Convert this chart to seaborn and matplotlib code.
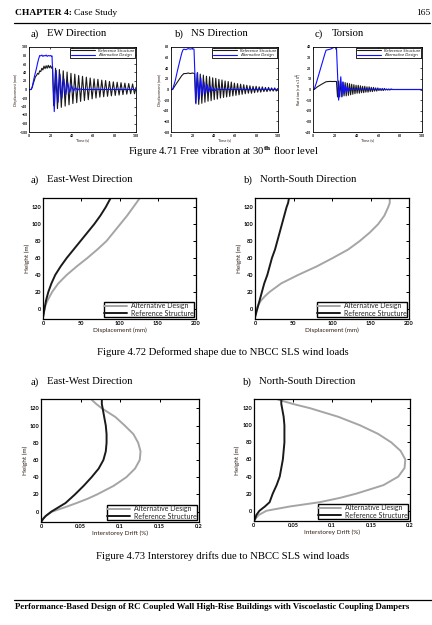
import matplotlib
matplotlib.use("Agg")
import matplotlib.pyplot as plt
import seaborn as sns
from matplotlib.lines import Line2D

# ---- Figure 4.71 free vibration (extrema) ----
ew_ref_t = [0, 2, 3, 4, 5, 6, 7, 8, 9, 10, 11, 12, 13, 14, 15, 16, 17, 18, 19, 20, 21, 22,
            23.0, 24.8, 26.6, 28.4, 30.2, 32.0, 33.8, 35.6, 37.4, 39.2, 41.0, 42.8, 44.6,
            46.4, 48.2, 50.0, 51.8, 53.6, 55.4, 57.2, 59.0, 60.8, 62.6, 64.4, 66.2, 68.0,
            69.8, 71.6, 73.4, 75.2, 77.0, 78.8, 80.6, 82.4, 84.2, 86.0, 87.8, 89.6, 91.4,
            93.2, 95.0, 96.8, 98.6, 100]
ew_ref_v = [0, 0, 5, 14, 22, 30, 33, 38, 36, 44, 42, 50, 46, 55, 49, 56, 50, 57, 51, 56, 50, 55,
            -38, 50, -45, 47, -42, 44, -39, 41, -36, 38, -33, 36, -31,
            33, -28, 31, -26, 29, -24, 27, -22, 25, -20, 24, -18, 22,
            -17, 21, -16, 19, -15, 18, -14, 17, -13, 16, -12, 15, -11,
            14, -10, 13, -10, 5]
ew_alt_t = [0, 2, 3, 4, 5, 6, 7, 8, 9, 10, 11, 12, 13, 14, 15, 16, 17, 18, 19, 20, 21, 21.5,
            23.6, 25.4, 27.2, 29.0, 30.8, 32.6, 34.4, 36.2, 38.0, 39.8, 41.6, 43.4, 45.2,
            47.0, 49, 100]
ew_alt_v = [0, 0, 6, 18, 30, 40, 50, 62, 72, 80, 79, 81, 78, 80, 79, 81, 78, 80, 79, 80, 78, 79,
            -52, 45, -30, 36, -20, 25, -12, 16, -7, 9, -4, 5, -2,
            2, 0, 0]

ns_ref_t = [0, 1.5, 4, 6, 8, 10, 12, 14, 16, 18, 20, 22,
            23.0, 24.45, 25.9, 27.35, 28.8, 30.25, 31.7, 33.15, 34.6, 36.05, 37.5, 38.95,
            40.4, 41.85, 43.3, 44.75, 46.2, 47.65, 49.1, 50.55, 52.0, 53.45, 54.9, 56.35,
            57.8, 59.25, 60.7, 62.15, 63.6, 65.05, 66.5, 67.95, 69.4, 70.85, 72.3, 73.75,
            75.2, 76.65, 78.1, 79.55, 81.0, 82.45, 83.9, 85.35, 86.8, 88.25, 89.7, 91.15,
            92.6, 94.05, 95.5, 96.95, 98.4, 99.85]
ns_ref_v = [0, 0, 8, 14, 20, 26, 30, 30, 31, 30, 31, 30,
            -25, 31, -28, 29, -26, 27, -24, 25, -22, 24, -21, 22,
            -19, 21, -18, 19, -16, 18, -15, 16, -14, 15, -13, 14,
            -12, 12, -11, 11, -10, 10, -9, 9, -8, 8, -7, 7,
            -7, 6, -6, 6, -5, 5, -5, 5, -4, 4, -4, 4,
            -3, 3, -3, 3, -3, 2]
ns_alt_t = [0, 1.5, 4, 6, 8, 10, 11, 12, 14, 16, 18, 20, 21.5,
            23.3, 24.8, 26.3, 27.8, 29.3, 30.8, 32.3, 33.8, 35.3, 36.8, 38.3, 39.8,
            41.3, 42.8, 45, 100]
ns_alt_v = [0, 0, 17, 35, 52, 68, 74, 76, 75, 77, 76, 77, 76,
            -27, 32, -18, 22, -12, 14, -8, 9, -5, 6, -3, 3,
            -2, 1, 0, 0]

tor_ref_t = [0, 1, 4, 8, 12, 14, 16, 18, 20, 21.5,
             22.5, 23.5, 24.5, 25.5, 26.5, 27.5, 28.5, 29.5, 30.5, 31.5, 32.5, 33.5,
             34.5, 35.5, 36.5, 37.5, 38.5, 39.5, 40.5, 41.5, 42.5, 43.5, 44.5, 45.5,
             46.5, 47.5, 48.5, 49.5, 50.5, 51.5, 52.5, 53.5, 54.5, 55.5, 56.5, 57.5,
             58.5, 59.5, 60.5, 61.5, 62.5, 63.5, 64.5, 65.5, 66.5, 67.5, 68.5, 69.5,
             70.5, 71.5, 73, 100]
tor_ref_v = [0, 0, 2.5, 5, 7.3, 7.5, 7.6, 7.5, 7.6, 7.5,
             -7, 8, -7, 7, -6.5, 7, -6, 6.5, -6, 6, -5.5, 5.5,
             -5, 5, -4.5, 4.5, -4, 4, -3.5, 4, -3.5, 3.5, -3, 3,
             -3, 3, -2.5, 2.5, -2.5, 2.5, -2, 2, -2, 2, -1.5, 1.5,
             -1.5, 1.5, -1, 1, -1, 1, -1, 1, -0.5, 0.5, -0.5, 0.5,
             -0.5, 0.5, 0, 0]
tor_alt_t = [0, 1, 3, 5, 7, 9, 11, 12, 14, 16, 18, 20, 21.5,
             23.5, 25.5, 26.5, 27.5, 28.5, 29.5, 30.5, 31.5, 32.5, 33.5, 35, 100]
tor_alt_v = [0, 0, 6, 13, 20, 27, 34, 37, 37.5, 38, 39, 40, 40,
             -10, 12, -7, 7, -4, 4, -2.5, 2.5, -1.5, 1, 0, 0]

# ---- Figure 4.72 deformed shape ----
height_def = [-10, -5, 0, 5, 10, 15, 20, 30, 40, 50, 60, 70, 80, 90, 100, 110, 120, 125, 130]
ew_def_alt = [0, 1, 2, 3.5, 6, 9, 12, 20, 31, 44, 58, 71, 83, 92, 101, 110, 118, 122, 126]
ew_def_ref = [0, 1, 2, 3, 4, 5.5, 7, 11, 16, 23, 31, 40, 49, 58, 67, 75, 82, 85, 88]
ns_def_alt = [0, 1, 2, 4.5, 8, 13, 19, 34, 56, 80, 101, 121, 136, 149, 160, 168, 173, 175, 175]
ns_def_ref = [0, 1.5, 3, 4.5, 6, 7.5, 9, 12, 16, 19, 22, 26, 29, 32, 35, 38, 41, 43, 44]

# ---- Figure 4.73 interstorey drift ----
height_dr = [-12, -8, -5, 0, 5, 10, 15, 20, 30, 40, 50, 60, 70, 80, 90, 100, 110, 120, 125, 130]
ew_dr_alt = [0.0, 0.003, 0.006, 0.014, 0.03, 0.045, 0.059, 0.071, 0.092, 0.108, 0.119, 0.125,
             0.126, 0.123, 0.117, 0.106, 0.094, 0.077, 0.07, 0.064]
ew_dr_ref = [0.0, 0.003, 0.006, 0.013, 0.022, 0.031, 0.037, 0.043, 0.054, 0.064, 0.073, 0.079,
             0.082, 0.083, 0.083, 0.082, 0.080, 0.078, 0.077, 0.077]
ns_dr_alt = [0.0, 0.003, 0.006, 0.016, 0.046, 0.084, 0.11, 0.131, 0.166, 0.185, 0.193, 0.194,
             0.188, 0.176, 0.159, 0.136, 0.108, 0.072, 0.05, 0.031]
ns_dr_ref = [0.0, 0.002, 0.003, 0.007, 0.014, 0.020, 0.022, 0.024, 0.029, 0.033, 0.035, 0.037,
             0.038, 0.039, 0.039, 0.039, 0.038, 0.036, 0.035, 0.035]

BLACK = "#1a1a1a"
GREY = "#a5a5a5"
BLUE = "#1010ff"
LABEL_C = "#2e1e14"

sns.set_theme(style="white")
plt.rcParams["font.family"] = ["Lato", "DejaVu Sans"]
plt.rcParams["font.weight"] = "bold"
plt.rcParams["mathtext.fontset"] = "stix"

W, H = 432, 625
fig = plt.figure(figsize=(W / 100, H / 100), dpi=100)
SERIF = ["Liberation Serif", "DejaVu Serif"]
CAP = 7.7


def px_box(x0, y0, x1, y1):
    return [x0 / W, 1 - y1 / H, (x1 - x0) / W, (y1 - y0) / H]


def page_text(x, y, s, size, weight="normal", ha="left"):
    fig.text(x / W, 1 - y / H, s, fontsize=size, fontweight=weight, ha=ha,
             va="center", family=SERIF, color="black")


def page_line(x0, x1, y):
    fig.add_artist(Line2D([x0 / W, x1 / W], [1 - y / H, 1 - y / H],
                          transform=fig.transFigure, color="black", lw=0.9))


def style_axes(ax, tick_size, lw, tick_len):
    ax.tick_params(which="both", direction="in", top=True, right=True,
                   length=tick_len, width=lw * 0.8, labelsize=tick_size, pad=1.2,
                   colors="black")
    for s in ax.spines.values():
        s.set_linewidth(lw)
        s.set_color("black")


def time_panel(box, t_ref, v_ref, t_alt, v_alt, ylim, yticks, ylabel):
    ax = fig.add_axes(px_box(*box))
    sns.lineplot(x=t_ref, y=v_ref, ax=ax, color=BLACK, lw=0.8, sort=False,
                 estimator=None, label="Reference Structure")
    sns.lineplot(x=t_alt, y=v_alt, ax=ax, color=BLUE, lw=0.8, sort=False,
                 estimator=None, label="Alternative Design")
    ax.set_xlim(0, 100)
    ax.set_ylim(*ylim)
    ax.set_xticks([0, 20, 40, 60, 80, 100])
    ax.set_yticks(yticks)
    style_axes(ax, 2.4, 0.6, 1.2)
    ax.set_xlabel("Time (s)", fontsize=2.8, labelpad=0.5, color=LABEL_C)
    ax.set_ylabel(ylabel, fontsize=2.8, labelpad=0.8, color=LABEL_C)
    ax.legend(loc="upper right", frameon=True, fancybox=False,
              edgecolor="black", framealpha=1, borderpad=0.15, handlelength=5.5,
              labelspacing=0.05, borderaxespad=0.25, handletextpad=0.6,
              prop={"size": 3.2, "weight": "normal", "style": "italic"})
    ax.get_legend().get_frame().set_linewidth(0.6)
    return ax


def height_panel(box, x_alt, x_ref, heights, xlim, xticks, xticklabels, xlabel):
    ax = fig.add_axes(px_box(*box))
    sns.lineplot(x=x_alt, y=heights, ax=ax, color=GREY, lw=1.4, sort=False,
                 estimator=None, label="Alternative Design")
    sns.lineplot(x=x_ref, y=heights, ax=ax, color=BLACK, lw=1.4, sort=False,
                 estimator=None, label="Reference Structure")
    ax.set_xlim(*xlim)
    ax.set_ylim(-12, 130.8)
    ax.set_xticks(xticks)
    ax.set_xticklabels(xticklabels)
    ax.set_yticks([0, 20, 40, 60, 80, 100, 120])
    style_axes(ax, 4.0, 0.9, 2.0)
    ax.set_xlabel(xlabel, fontsize=4.6, labelpad=1.0, color=LABEL_C)
    ax.set_ylabel("Height (m)", fontsize=4.6, labelpad=1.5, color=LABEL_C)
    ax.legend(loc="lower right", frameon=True, fancybox=False, edgecolor="black",
              framealpha=1, borderpad=0.1, handlelength=3.2, labelspacing=0.05,
              borderaxespad=0.25, handletextpad=0.6,
              prop={"size": 5.0, "weight": "normal"})
    ax.get_legend().get_frame().set_linewidth(1.0)
    return ax


# ---- page header ----
page_text(15, 13, "CHAPTER 4:", 6.8, weight="bold")
page_text(74, 13, "Case Study", 6.8)
page_text(430, 13, "165", 6.8, ha="right")
page_line(14, 430, 23)

# ---- Figure 4.71 ----
page_text(31, 34, "a)", CAP)
page_text(47, 34, "EW Direction", CAP)
page_text(175, 34, "b)", CAP)
page_text(191, 34, "NS Direction", CAP)
page_text(315, 34, "c)", CAP)
page_text(332, 34, "Torsion", CAP)

time_panel((29, 47, 136, 132), ew_ref_t, ew_ref_v, ew_alt_t, ew_alt_v,
           (-100, 100), list(range(-100, 101, 20)), "Displacement (mm)")
time_panel((171, 47, 278, 132), ns_ref_t, ns_ref_v, ns_alt_t, ns_alt_v,
           (-80, 80), list(range(-80, 81, 20)), "Displacement (mm)")
time_panel((313, 47, 422, 132), tor_ref_t, tor_ref_v, tor_alt_t, tor_alt_v,
           (-40, 40), list(range(-40, 41, 10)), "Rotation (rads 10$^{4}$)")

page_text(128, 152, "Figure 4.71 Free vibration at 30$^{\\rm th}$ floor level", CAP)

# ---- Figure 4.72 ----
page_text(31, 180, "a)", CAP)
page_text(47, 180, "East-West Direction", CAP)
page_text(244, 180, "b)", CAP)
page_text(260, 180, "North-South Direction", CAP)

height_panel((43, 198, 196, 319), ew_def_alt, ew_def_ref, height_def, (0, 200),
             [0, 50, 100, 150, 200], ["0", "50", "100", "150", "200"], "Displacement (mm)")
height_panel((255, 198, 409, 319), ns_def_alt, ns_def_ref, height_def, (0, 200),
             [0, 50, 100, 150, 200], ["0", "50", "100", "150", "200"], "Displacement (mm)")

page_text(97, 352, "Figure 4.72 Deformed shape due to NBCC SLS wind loads", CAP)

# ---- Figure 4.73 ----
page_text(31, 382, "a)", CAP)
page_text(47, 382, "East-West Direction", CAP)
page_text(243, 382, "b)", CAP)
page_text(259, 382, "North-South Direction", CAP)

drift_ticks = [0, 0.05, 0.1, 0.15, 0.2]
drift_labels = ["0", "0.05", "0.1", "0.15", "0.2"]
height_panel((41, 399, 199, 522), ew_dr_alt, ew_dr_ref, height_dr, (0, 0.2),
             drift_ticks, drift_labels, "Interstorey Drift (%)")
height_panel((254, 399, 410, 521), ns_dr_alt, ns_dr_ref, height_dr, (0, 0.2),
             drift_ticks, drift_labels, "Interstorey Drift (%)")

page_text(96, 556, "Figure 4.73 Interstorey drifts due to NBCC SLS wind loads", CAP)

# ---- footer ----
page_line(14, 432, 600)
page_text(15, 607, "Performance-Based Design of RC Coupled Wall High-Rise Buildings "
                   "with Viscoelastic Coupling Dampers", 6.35, weight="bold")

fig.savefig("out.png", dpi=100)
